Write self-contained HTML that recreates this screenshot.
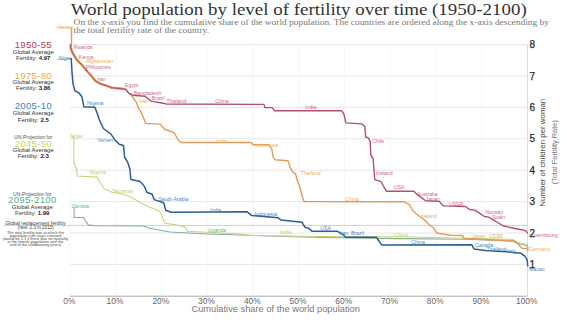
<!DOCTYPE html>
<html><head><meta charset="utf-8"><style>
html,body{margin:0;padding:0;background:#fff;width:567px;height:326px;overflow:hidden}
svg{display:block}
.sans{font-family:"Liberation Sans",sans-serif}
.serif{font-family:"Liberation Serif",serif}
</style></head><body>
<svg width="567" height="326" viewBox="0 0 567 326">
<rect width="567" height="326" fill="#fff"/>

<line x1="70.1" y1="264.4" x2="527.5" y2="264.4" stroke="#e6e6e6" stroke-width="1"/>
<line x1="70.1" y1="233.0" x2="527.5" y2="233.0" stroke="#e6e6e6" stroke-width="1"/>
<line x1="70.1" y1="201.6" x2="527.5" y2="201.6" stroke="#e6e6e6" stroke-width="1"/>
<line x1="70.1" y1="170.2" x2="527.5" y2="170.2" stroke="#e6e6e6" stroke-width="1"/>
<line x1="70.1" y1="138.8" x2="527.5" y2="138.8" stroke="#e6e6e6" stroke-width="1"/>
<line x1="70.1" y1="107.4" x2="527.5" y2="107.4" stroke="#e6e6e6" stroke-width="1"/>
<line x1="70.1" y1="76.0" x2="527.5" y2="76.0" stroke="#e6e6e6" stroke-width="1"/>
<line x1="70.1" y1="44.6" x2="527.5" y2="44.6" stroke="#e6e6e6" stroke-width="1"/>
<line x1="70.1" y1="44.6" x2="70.1" y2="295.8" stroke="#f4f4f4" stroke-width="0.8"/>
<line x1="115.8" y1="44.6" x2="115.8" y2="295.8" stroke="#f4f4f4" stroke-width="0.8"/>
<line x1="161.6" y1="44.6" x2="161.6" y2="295.8" stroke="#f4f4f4" stroke-width="0.8"/>
<line x1="207.3" y1="44.6" x2="207.3" y2="295.8" stroke="#f4f4f4" stroke-width="0.8"/>
<line x1="253.1" y1="44.6" x2="253.1" y2="295.8" stroke="#f4f4f4" stroke-width="0.8"/>
<line x1="298.8" y1="44.6" x2="298.8" y2="295.8" stroke="#f4f4f4" stroke-width="0.8"/>
<line x1="344.5" y1="44.6" x2="344.5" y2="295.8" stroke="#f4f4f4" stroke-width="0.8"/>
<line x1="390.3" y1="44.6" x2="390.3" y2="295.8" stroke="#f4f4f4" stroke-width="0.8"/>
<line x1="436.0" y1="44.6" x2="436.0" y2="295.8" stroke="#f4f4f4" stroke-width="0.8"/>
<line x1="481.8" y1="44.6" x2="481.8" y2="295.8" stroke="#f4f4f4" stroke-width="0.8"/>
<line x1="527.5" y1="44.6" x2="527.5" y2="295.8" stroke="#f4f4f4" stroke-width="0.8"/>
<line x1="527.5" y1="44.6" x2="527.5" y2="295.8" stroke="#dcdcdc" stroke-width="1"/>
<line x1="70.1" y1="296.2" x2="527.5" y2="296.2" stroke="#a8a8a8" stroke-width="1"/>
<line x1="4" y1="225.4" x2="527.5" y2="225.4" stroke="#bcc5c8" stroke-width="0.8"/>
<line x1="56" y1="27.8" x2="71.5" y2="27.8" stroke="#f0b060" stroke-width="0.6"/>
<line x1="57" y1="59.3" x2="71.4" y2="59.3" stroke="#5aa0c8" stroke-width="0.6"/>
<path d="M70.8,44.0 L70.6,47.5 L72.3,52.3 L74.7,56.6 L77.8,60.9 L81.5,64.5 L85.2,68.8 L88.2,72.5 L91.5,76.0 L95.4,81.0 L100.7,83.9 L106.1,85.6 L111.5,87.7 L122.2,88.8 L125.9,89.3" fill="none" stroke="#e09c5c" stroke-width="2.5" stroke-linejoin="round"/>
<path d="M74.0,207.8 L74.0,217.5 L83.3,217.5 L88.2,224.9 L94.0,225.8 L143.5,226.0 L149.3,228.2 L170.0,232.0 L208.0,234.0 L240.0,235.0 L320.0,237.5 L400.0,238.6 L465.2,239.3 L512.0,241.0 L520.0,244.0 L527.8,246.0 L527.8,251.5" fill="none" stroke="#88ad9a" stroke-width="1.1" stroke-linejoin="round"/>
<path d="M71.6,136.9 L73.8,137.0 L73.8,162.3 L76.9,169.7 L77.0,176.0 L97.0,177.1 L100.2,182.7 L104.4,189.0 L111.9,192.2 L123.5,194.3 L132.0,197.5 L140.4,202.8 L148.9,207.0 L157.0,210.0 L159.5,211.3 L162.0,215.5 L164.9,223.3 L175.5,224.8 L184.7,226.9 L187.5,231.2 L240.0,234.0 L250.0,235.5 L320.0,236.5 L400.0,236.8 L465.0,238.2 L512.0,239.3 L518.0,242.5 L527.8,244.5" fill="none" stroke="#ccd27a" stroke-width="1.1" stroke-linejoin="round"/>
<path d="M71.5,27.5 L71.5,44.0 L70.8,44.0 L70.6,47.5 L72.3,52.3 L74.7,56.6 L77.8,60.9 L81.5,64.5 L85.2,68.8 L88.2,72.5 L91.5,76.0 L95.4,81.0 L100.7,83.9 L106.1,85.6 L111.5,87.7 L122.2,88.8 L125.9,89.3 L128.6,93.0 L131.1,95.0 L135.7,101.1 L138.8,108.8 L141.1,111.9 L144.2,119.5 L145.7,123.4 L160.3,124.1 L164.9,129.5 L174.1,132.6 L177.9,139.5 L181.0,142.5 L251.1,142.5 L253.2,144.7 L268.6,144.7 L271.8,149.0 L273.3,157.6 L275.0,159.7 L288.0,160.8 L290.1,167.3 L293.3,172.6 L295.5,173.7 L297.6,181.2 L299.8,186.6 L301.9,195.2 L304.1,201.6 L404.3,201.8 L409.6,204.9 L412.3,210.0 L416.6,214.2 L424.0,219.5 L429.3,224.8 L433.5,228.0 L436.7,233.0 L450.4,235.2 L462.2,235.5 L464.2,238.5 L514.4,241.0 L518.7,244.8 L521.9,248.3 L527.8,248.5" fill="none" stroke="#e09c5c" stroke-width="1.4" stroke-linejoin="round"/>
<path d="M70.8,44.0 L70.6,47.5 L72.3,52.3 L74.7,56.6 L77.8,60.9 L81.5,64.5 L85.2,68.8 L88.2,72.5 L91.5,76.0 L95.4,81.0 L100.7,83.9 L106.1,85.6 L111.5,87.7 L122.2,88.8 L125.9,89.3" fill="none" stroke="#b4506a" stroke-width="1.0" stroke-linejoin="round"/>
<path d="M125.9,89.3 L128.6,93.1 L132.9,95.2 L145.0,96.3 L151.1,101.1 L163.3,103.2 L166.0,104.0 L263.9,104.4 L265.0,107.6 L272.3,107.6 L274.4,110.7 L341.6,110.7 L343.8,113.8 L345.9,122.9 L361.7,123.9 L364.9,126.5 L365.6,137.0 L368.1,137.7 L370.2,141.3 L370.8,155.0 L373.1,158.5 L374.8,179.6 L381.2,181.7 L383.3,186.0 L386.5,191.3 L414.0,191.3 L417.1,194.4 L421.4,197.6 L425.6,200.8 L439.4,201.4 L442.5,205.4 L444.2,205.9 L465.4,206.5 L469.6,209.5 L474.9,210.1 L484.4,216.5 L488.7,217.1 L503.5,226.0 L516.2,228.7 L525.7,230.6 L527.8,233.4" fill="none" stroke="#b4506a" stroke-width="1.4" stroke-linejoin="round"/>
<path d="M71.2,58.0 L72.0,71.9 L73.0,83.9 L74.9,90.8 L78.9,92.8 L81.9,96.8 L83.9,106.8 L94.9,107.3 L97.8,115.0 L99.4,120.0 L103.4,128.5 L110.8,133.8 L115.0,140.1 L119.3,144.3 L123.5,145.4 L124.6,157.0 L127.7,162.3 L129.8,168.7 L130.9,179.5 L140.4,181.6 L144.7,186.9 L146.8,192.2 L152.1,194.3 L154.2,199.6 L163.7,202.8 L165.8,210.2 L171.1,212.3 L247.2,211.8 L251.5,215.4 L278.1,217.8 L280.9,219.9 L302.0,222.3 L304.9,227.2 L309.1,228.4 L311.9,231.2 L337.1,231.2 L343.5,234.9 L345.6,237.2 L376.3,237.2 L379.5,241.7 L381.6,244.9 L471.9,244.8 L474.0,249.0 L485.3,250.4 L506.4,251.8 L520.5,253.2 L524.8,256.0 L527.2,260.2 L527.8,266.5" fill="none" stroke="#2b5e98" stroke-width="1.5" stroke-linejoin="round"/>
<text x="73.4" y="48.7" class="sans" font-size="5.2" fill="#cf6a88">Rwanda</text>
<text x="78.8" y="59.0" class="sans" font-size="5.2" fill="#cf6a88">Kenya</text>
<text x="85.7" y="69.1" class="sans" font-size="5.2" fill="#cf6a88">Philippines</text>
<text x="97.2" y="81.1" class="sans" font-size="5.2" fill="#cf6a88">Iran</text>
<text x="125.0" y="87.2" class="sans" font-size="5.2" fill="#cf6a88">Egypt</text>
<text x="133.8" y="94.7" class="sans" font-size="5.2" fill="#cf6a88">Bangladesh</text>
<text x="151.7" y="100.4" class="sans" font-size="5.2" fill="#cf6a88">Brazil</text>
<text x="166.6" y="103.1" class="sans" font-size="5.2" fill="#cf6a88">Thailand</text>
<text x="215.2" y="102.9" class="sans" font-size="5.2" fill="#cf6a88">China</text>
<text x="305.1" y="109.4" class="sans" font-size="5.2" fill="#cf6a88">India</text>
<text x="372.3" y="143.1" class="sans" font-size="5.2" fill="#cf6a88">Chile</text>
<text x="375.9" y="174.7" class="sans" font-size="5.2" fill="#cf6a88">Iceland</text>
<text x="393.9" y="188.8" class="sans" font-size="5.2" fill="#cf6a88">USA</text>
<text x="417.1" y="196.2" class="sans" font-size="5.2" fill="#cf6a88">Australia</text>
<text x="425.6" y="200.5" class="sans" font-size="5.2" fill="#cf6a88">Japan</text>
<text x="448.9" y="205.8" class="sans" font-size="5.2" fill="#cf6a88">USSR</text>
<text x="485.5" y="214.0" class="sans" font-size="5.2" fill="#cf6a88">Norway</text>
<text x="491.9" y="218.9" class="sans" font-size="5.2" fill="#cf6a88">Spain</text>
<text x="528.9" y="237.3" class="sans" font-size="5.2" fill="#cf6a88">Luxembourg</text>
<text x="57.5" y="28.6" class="sans" font-size="5.2" fill="#eeb060">Yemen</text>
<text x="85.7" y="62.9" class="sans" font-size="5.2" fill="#eeb060">Afghanistan</text>
<text x="139.0" y="102.5" class="sans" font-size="5.2" fill="#eeb060">Iran</text>
<text x="216.2" y="142.5" class="sans" font-size="5.2" fill="#eeb060">India</text>
<text x="255.4" y="147.2" class="sans" font-size="5.2" fill="#eeb060">Indonesia</text>
<text x="300.8" y="175.2" class="sans" font-size="5.2" fill="#eeb060">Thailand</text>
<text x="345.0" y="201.0" class="sans" font-size="5.2" fill="#eeb060">China</text>
<text x="420.8" y="218.1" class="sans" font-size="5.2" fill="#eeb060">Ireland</text>
<text x="471.7" y="238.1" class="sans" font-size="5.2" fill="#eeb060">Japan</text>
<text x="488.7" y="238.1" class="sans" font-size="5.2" fill="#eeb060">USSR</text>
<text x="528.9" y="251.4" class="sans" font-size="5.2" fill="#eeb060">Germany</text>
<text x="58.7" y="59.8" class="sans" font-size="5.2" fill="#4a8cc6">Niger</text>
<text x="87.0" y="105.1" class="sans" font-size="5.2" fill="#4a8cc6">Nigeria</text>
<text x="97.0" y="141.8" class="sans" font-size="5.2" fill="#4a8cc6">Yemen</text>
<text x="158.4" y="201.4" class="sans" font-size="5.2" fill="#4a8cc6">Saudi-Arabia</text>
<text x="210.2" y="211.5" class="sans" font-size="5.2" fill="#4a8cc6">India</text>
<text x="254.7" y="216.1" class="sans" font-size="5.2" fill="#4a8cc6">Indonesia</text>
<text x="320.2" y="229.9" class="sans" font-size="5.2" fill="#4a8cc6">USA</text>
<text x="339.3" y="234.6" class="sans" font-size="5.2" fill="#4a8cc6">Iran</text>
<text x="350.9" y="235.2" class="sans" font-size="5.2" fill="#4a8cc6">Brazil</text>
<text x="411.3" y="244.0" class="sans" font-size="5.2" fill="#4a8cc6">China</text>
<text x="474.9" y="246.8" class="sans" font-size="5.2" fill="#4a8cc6">Canada</text>
<text x="486.6" y="251.1" class="sans" font-size="5.2" fill="#4a8cc6">Thailand</text>
<text x="506.7" y="253.1" class="sans" font-size="5.2" fill="#4a8cc6">Italy</text>
<text x="529.0" y="270.6" class="sans" font-size="5.2" fill="#4a8cc6">Macao</text>
<text x="70.6" y="137.7" class="sans" font-size="5.2" fill="#c6cf60">Niger</text>
<text x="89.6" y="173.7" class="sans" font-size="5.2" fill="#c6cf60">Nigeria</text>
<text x="111.9" y="193.0" class="sans" font-size="5.2" fill="#c6cf60">Tanzania</text>
<text x="280.2" y="234.4" class="sans" font-size="5.2" fill="#c6cf60">India</text>
<text x="394.3" y="236.6" class="sans" font-size="5.2" fill="#c6cf60">China</text>
<text x="71.7" y="207.6" class="sans" font-size="5.2" fill="#55bb98">Zambia</text>
<text x="208.0" y="231.5" class="sans" font-size="5.2" fill="#55bb98">Uganda</text>
<text x="529.5" y="268.0" class="sans" font-size="10" fill="#2a2a2a" stroke="#2a2a2a" stroke-width="0.25">1</text>
<text x="529.5" y="236.6" class="sans" font-size="10" fill="#2a2a2a" stroke="#2a2a2a" stroke-width="0.25">2</text>
<text x="529.5" y="205.2" class="sans" font-size="10" fill="#2a2a2a" stroke="#2a2a2a" stroke-width="0.25">3</text>
<text x="529.5" y="173.8" class="sans" font-size="10" fill="#2a2a2a" stroke="#2a2a2a" stroke-width="0.25">4</text>
<text x="529.5" y="142.4" class="sans" font-size="10" fill="#2a2a2a" stroke="#2a2a2a" stroke-width="0.25">5</text>
<text x="529.5" y="111.0" class="sans" font-size="10" fill="#2a2a2a" stroke="#2a2a2a" stroke-width="0.25">6</text>
<text x="529.5" y="79.6" class="sans" font-size="10" fill="#2a2a2a" stroke="#2a2a2a" stroke-width="0.25">7</text>
<text x="529.5" y="48.2" class="sans" font-size="10" fill="#2a2a2a" stroke="#2a2a2a" stroke-width="0.25">8</text>
<text x="69.3" y="303.6" class="sans" font-size="8.4" fill="#666" text-anchor="middle">0%</text>
<text x="115.0" y="303.6" class="sans" font-size="8.4" fill="#666" text-anchor="middle">10%</text>
<text x="160.8" y="303.6" class="sans" font-size="8.4" fill="#666" text-anchor="middle">20%</text>
<text x="206.5" y="303.6" class="sans" font-size="8.4" fill="#666" text-anchor="middle">30%</text>
<text x="252.3" y="303.6" class="sans" font-size="8.4" fill="#666" text-anchor="middle">40%</text>
<text x="298.0" y="303.6" class="sans" font-size="8.4" fill="#666" text-anchor="middle">50%</text>
<text x="343.7" y="303.6" class="sans" font-size="8.4" fill="#666" text-anchor="middle">60%</text>
<text x="389.5" y="303.6" class="sans" font-size="8.4" fill="#666" text-anchor="middle">70%</text>
<text x="435.2" y="303.6" class="sans" font-size="8.4" fill="#666" text-anchor="middle">80%</text>
<text x="481.0" y="303.6" class="sans" font-size="8.4" fill="#666" text-anchor="middle">90%</text>
<text x="526.7" y="303.6" class="sans" font-size="8.4" fill="#666" text-anchor="middle">100%</text>
<text x="275.7" y="312.3" class="sans" font-size="9.3" fill="#7a7a7a" text-anchor="middle">Cumulative share of the world population</text>
<text transform="translate(545.0,152.7) rotate(-90)" class="sans" font-size="7.9" fill="#444" text-anchor="middle">Number of children per woman</text>
<text transform="translate(556.8,152.3) rotate(-90)" class="sans" font-size="7.45" fill="#777" text-anchor="middle">(Total Fertility Rate)</text>
<text x="70.7" y="15.2" class="serif" font-size="16.3" fill="#333" textLength="456" lengthAdjust="spacingAndGlyphs">World population by level of fertility over time (1950-2100)</text>
<text x="73.6" y="24.6" class="serif" font-size="7.3" fill="#777" textLength="475.4" lengthAdjust="spacingAndGlyphs">On the x-axis you find the cumulative share of the world population. The countries are ordered along the x-axis descending by</text>
<text x="73.6" y="32.7" class="serif" font-size="7.3" fill="#777" textLength="135.5" lengthAdjust="spacingAndGlyphs">the total fertility rate of the country.</text>
<text x="33.3" y="47.9" class="sans" font-size="9.6" letter-spacing="0.3" fill="#b8395a" text-anchor="middle">1950-55</text>
<text x="33.3" y="53.7" class="sans" font-size="6" fill="#333" text-anchor="middle">Global Average</text>
<text x="33.3" y="59.9" class="sans" font-size="6" fill="#333" text-anchor="middle">Fertility: <tspan font-weight="bold" fill="#222">4.97</tspan></text>
<text x="33.3" y="79.0" class="sans" font-size="9.6" letter-spacing="0.3" fill="#eaa84a" text-anchor="middle">1975-80</text>
<text x="33.3" y="84.1" class="sans" font-size="6" fill="#333" text-anchor="middle">Global Average</text>
<text x="33.3" y="90.3" class="sans" font-size="6" fill="#333" text-anchor="middle">Fertility: <tspan font-weight="bold" fill="#222">3.86</tspan></text>
<text x="33.3" y="109.4" class="sans" font-size="9.6" letter-spacing="0.3" fill="#3b7fc0" text-anchor="middle">2005-10</text>
<text x="33.3" y="114.7" class="sans" font-size="6" fill="#333" text-anchor="middle">Global Average</text>
<text x="33.3" y="121.5" class="sans" font-size="6" fill="#333" text-anchor="middle">Fertility: <tspan font-weight="bold" fill="#222">2.5</tspan></text>
<text x="33.3" y="139.2" class="sans" font-size="5" fill="#555" text-anchor="middle">UN-Projection for</text>
<text x="33.3" y="146.9" class="sans" font-size="9.6" letter-spacing="0.3" fill="#cdd65c" text-anchor="middle">2045-50</text>
<text x="33.3" y="152.3" class="sans" font-size="6" fill="#333" text-anchor="middle">Global Average</text>
<text x="33.3" y="157.7" class="sans" font-size="6" fill="#333" text-anchor="middle">Fertility: <tspan font-weight="bold" fill="#222">2.3</tspan></text>
<text x="32.3" y="195.9" class="sans" font-size="5" fill="#555" text-anchor="middle">UN-Projection for</text>
<text x="32.3" y="203.3" class="sans" font-size="9.6" letter-spacing="0.3" fill="#55b086" text-anchor="middle">2095-2100</text>
<text x="32.3" y="208.6" class="sans" font-size="6" fill="#333" text-anchor="middle">Global Average</text>
<text x="32.3" y="214.8" class="sans" font-size="6" fill="#333" text-anchor="middle">Fertility: <tspan font-weight="bold" fill="#222">1.99</tspan></text>
<text x="35.3" y="224.6" class="sans" font-size="5.1" fill="#444" text-anchor="middle">Global replacement fertility</text>
<text x="35.7" y="229.0" class="sans" font-size="4.6" fill="#444" text-anchor="middle">(rate: 2.3 in 2015)</text>
<text x="35.5" y="234.1" class="sans" font-size="3.9" fill="#484848" text-anchor="middle">The total fertility rate at which the</text>
<text x="35.5" y="237.0" class="sans" font-size="3.9" fill="#484848" text-anchor="middle">population size stays constant</text>
<text x="35.5" y="240.0" class="sans" font-size="3.9" fill="#484848" text-anchor="middle">(would be 2.1 if there was no mortality</text>
<text x="35.5" y="242.9" class="sans" font-size="3.9" fill="#484848" text-anchor="middle">in the female population until the</text>
<text x="35.5" y="245.9" class="sans" font-size="3.9" fill="#484848" text-anchor="middle">end of the childbearing years)</text>
</svg></body></html>
